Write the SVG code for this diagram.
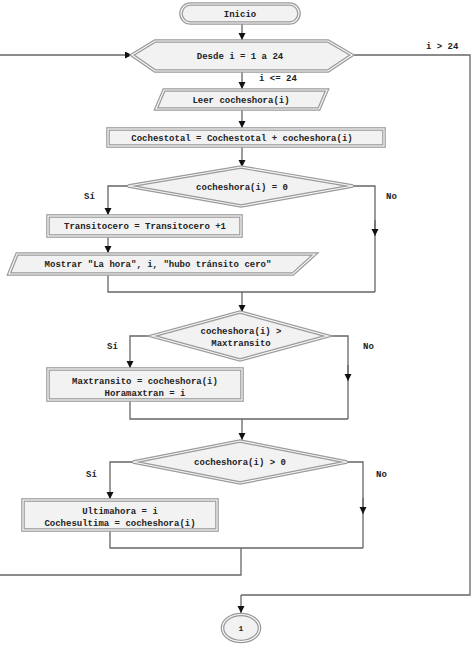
<svg xmlns="http://www.w3.org/2000/svg" width="474" height="648" viewBox="0 0 474 648">
<defs>
<marker id="ah" markerUnits="userSpaceOnUse" markerWidth="8" markerHeight="8" refX="7" refY="3.5" orient="auto">
<path d="M0,0 L7,3.5 L0,7 z" fill="#111"/>
</marker>
</defs>
<style>
.sh{fill:#f2f2f2;stroke:#9a9a9a;stroke-width:3.6}
.in{fill:none;stroke:#f8f8f8;stroke-width:1.2}
.ln{fill:none;stroke:#666;stroke-width:1.3}
.ar{fill:none;stroke:#666;stroke-width:1.3;marker-end:url(#ah)}
text{font-family:"Liberation Mono","Courier New",monospace;font-size:9px;font-weight:bold;fill:#222;text-anchor:middle}
.lb{text-anchor:start}
</style>
<rect width="474" height="648" fill="#fff"/>
<g id="connectors">
<path class="ar" d="M242,23 V40"/>
<path class="ar" d="M0,55 H132"/>
<path class="ln" d="M352,55 H470 V595 H241"/>
<path class="ar" d="M241,595 V613"/>
<path class="ar" d="M242,72 V89"/>
<path class="ar" d="M242,110 V128"/>
<path class="ar" d="M242,146 V167"/>
<path class="ar" d="M128,186 H108 V215"/>
<path class="ar" d="M108,237 V253"/>
<path class="ln" d="M108,275 V292 H375"/>
<path class="ln" d="M353,186 H375 V292"/>
<path class="ar" d="M375,220 V236"/>
<path class="ar" d="M242,292 V312"/>
<path class="ar" d="M152,336 H130 V368"/>
<path class="ln" d="M130,401 V419 H348"/>
<path class="ln" d="M328,336 H348 V419"/>
<path class="ar" d="M348,365 V381"/>
<path class="ar" d="M242,419 V440"/>
<path class="ar" d="M133,462 H110 V499"/>
<path class="ln" d="M110,531 V548 H363"/>
<path class="ln" d="M347,462 H363 V548"/>
<path class="ar" d="M363,498 V514"/>
<path class="ln" d="M241,548 V575 H0"/>
<text class="lb" x="426" y="49">i &gt; 24</text>
<text class="lb" x="259" y="81">i &lt;= 24</text>
<text class="lb" x="84" y="199">Sí</text>
<text class="lb" x="386" y="199">No</text>
<text class="lb" x="107" y="349">Sí</text>
<text class="lb" x="363" y="349">No</text>
<text class="lb" x="86" y="477">Sí</text>
<text class="lb" x="376" y="477">No</text>
</g>
<g id="inicio">
<rect class="sh" x="181" y="4" width="118" height="19" rx="9.5"/>
<rect class="in" x="181" y="4" width="118" height="19" rx="9.5"/>
<text x="240" y="16.5">Inicio</text>
</g>
<g id="desde">
<polygon class="sh" points="132,55 155,41 328,41 352,55 328,71 155,71"/>
<polygon class="in" points="132,55 155,41 328,41 352,55 328,71 155,71"/>
<text x="240" y="58.5">Desde i = 1 a 24</text>
</g>
<g id="leer">
<polygon class="sh" points="164,90 327,90 319,109 156,109"/>
<polygon class="in" points="164,90 327,90 319,109 156,109"/>
<text x="241" y="102.5">Leer cocheshora(i)</text>
</g>
<g id="cochestotal">
<rect class="sh" x="108" y="129" width="276" height="17"/>
<rect class="in" x="108" y="129" width="276" height="17"/>
<text x="242" y="140.5">Cochestotal = Cochestotal + cocheshora(i)</text>
</g>
<g id="cond1">
<polygon class="sh" points="241,167 353,186 241,206 128,186"/>
<polygon class="in" points="241,167 353,186 241,206 128,186"/>
<text x="242" y="189.5">cocheshora(i) = 0</text>
</g>
<g id="transitocero">
<rect class="sh" x="48" y="216" width="193" height="20"/>
<rect class="in" x="48" y="216" width="193" height="20"/>
<text x="145" y="229">Transitocero = Transitocero +1</text>
</g>
<g id="mostrar">
<polygon class="sh" points="17,254 315,254 293,274 9,274"/>
<polygon class="in" points="17,254 315,254 293,274 9,274"/>
<text x="158" y="267">Mostrar "La hora", i, "hubo tránsito cero"</text>
</g>
<g id="cond2">
<polygon class="sh" points="240,312 328,336 240,360 152,336"/>
<polygon class="in" points="240,312 328,336 240,360 152,336"/>
<text x="241" y="334">cocheshora(i) &gt;</text>
<text x="241" y="346">Maxtransito</text>
</g>
<g id="maxtransito">
<rect class="sh" x="48" y="369" width="194" height="31"/>
<rect class="in" x="48" y="369" width="194" height="31"/>
<text x="145" y="384">Maxtransito = cocheshora(i)</text>
<text x="145" y="396">Horamaxtran = i</text>
</g>
<g id="cond3">
<polygon class="sh" points="240,441 347,462 240,483 133,462"/>
<polygon class="in" points="240,441 347,462 240,483 133,462"/>
<text x="240" y="465">cocheshora(i) &gt; 0</text>
</g>
<g id="ultimahora">
<rect class="sh" x="23" y="500" width="194" height="30"/>
<rect class="in" x="23" y="500" width="194" height="30"/>
<text x="120" y="514">Ultimahora = i</text>
<text x="120" y="526">Cochesultima = cocheshora(i)</text>
</g>
<g id="conector1">
<ellipse class="sh" cx="241" cy="628" rx="18.5" ry="13.5"/>
<ellipse class="in" cx="241" cy="628" rx="18.5" ry="13.5"/>
<text x="241" y="631" style="font-size:8px">1</text>
</g>
</svg>
